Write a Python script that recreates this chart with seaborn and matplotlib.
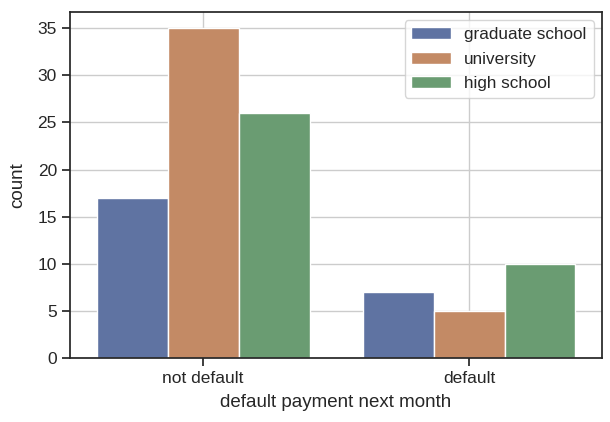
import pandas as pd
import matplotlib
matplotlib.use("Agg")
import matplotlib.pyplot as plt
import seaborn as sns

# counts
payment = ["not default", "not default", "not default", "default", "default", "default"]
education = ["graduate school", "university", "high school",
             "graduate school", "university", "high school"]
counts = [17, 35, 26, 7, 5, 10]
edu_colors = ["#5f73a2", "#c38a65", "#6a9c72"]

df = pd.DataFrame({"default payment next month": payment,
                   "education": education,
                   "count": counts})

sns.set_theme(style="ticks", rc={"axes.grid": True, "grid.color": ".8"})
plt.rcParams['font.family'] = ['Liberation Sans', 'DejaVu Sans']

fig = plt.figure(figsize=(6.1, 4.22), dpi=100)
ax = fig.add_axes([0.115, 0.152, 0.872, 0.820])
sns.barplot(data=df, x="default payment next month", y="count", hue="education",
            order=["not default", "default"],
            hue_order=["graduate school", "university", "high school"],
            palette=edu_colors, saturation=1, ax=ax)
ax.set_axisbelow(True)
ax.grid(True, axis="both", color=".8")
ax.tick_params(labelsize=12.5, colors=".15")
ax.set_xlabel("default payment next month", fontsize=13.5, color=".15", labelpad=6)
ax.set_ylabel("count", fontsize=13.5, color=".15", labelpad=8)
leg = ax.legend(loc="upper right", fontsize=12.3, title=None,
                handlelength=2.3, labelspacing=0.55)
for t in leg.get_texts():
    t.set_color(".15")
for s in ax.spines.values():
    s.set_color(".15")
    s.set_linewidth(1.25)

plt.savefig("out.png", dpi=100)
